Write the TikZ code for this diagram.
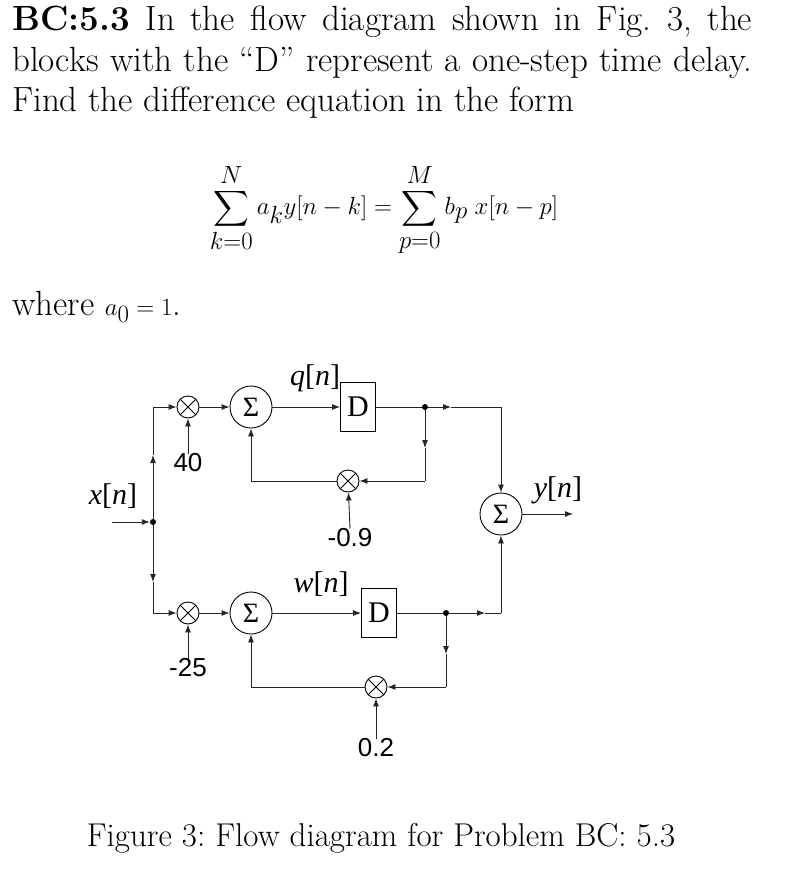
\documentclass[tikz,border=0pt]{standalone}
\usepackage{amsmath}
\usepackage{fontspec}
\newfontfamily\dsans{Liberation Sans}
\newfontfamily\tms{Liberation Serif}
\usetikzlibrary{arrows.meta}
\frenchspacing
\begin{document}
\begin{tikzpicture}[x=1pt,y=-1pt,
  arr/.style={-{Latex[length=8pt,width=6pt]}},
  ln/.style={line width=0.9pt,draw=black!85},
  mult/.style={circle,draw,line width=0.9pt,minimum size=22pt,inner sep=0pt,path picture={\draw[line width=0.8pt] (path picture bounding box.south west)--(path picture bounding box.north east) (path picture bounding box.north west)--(path picture bounding box.south east);}},
  sumn/.style={circle,draw,line width=0.9pt,minimum size=42pt,inner sep=0pt,font=\tms\fontsize{28}{28}\selectfont},
  dbox/.style={draw,line width=0.9pt,minimum width=35pt,minimum height=49pt,inner sep=0pt,font=\tms\fontsize{30}{30}\selectfont},
  num/.style={font=\dsans\fontsize{26}{26}\selectfont,inner sep=0pt},
  sig/.style={font=\tms\fontsize{30}{30}\selectfont,inner sep=0pt},
  txt/.style={anchor=west,inner sep=0pt,font=\fontsize{35}{35}\selectfont}]
\useasboundingbox (0,0) rectangle (804,894);
\node[txt] (l1) at (12,22) {\makebox[740pt][s]{\textbf{BC:5.3} In the flow diagram shown in Fig. 3, the}};
\node[txt] (l2) at (12,63) {\makebox[740pt][s]{blocks with the ``D'' represent a one-step time delay.}};
\node[txt] (l3) at (12,103) {Find the difference equation in the form};
\node[inner sep=0pt,font=\fontsize{33}{33}\selectfont] (eq) at (384,210) {$\displaystyle\sum_{k=0}^{N} a_k y[n-k]=\sum_{p=0}^{M} b_p\; x[n-p]$};
\node[txt] (l4) at (12,307) {where $a_0=1$.};
\node[inner sep=0pt,font=\fontsize{33}{33}\selectfont] (cap) at (381,838) {Figure 3: Flow diagram for Problem BC: 5.3};
% diagram
\coordinate (xin) at (112,522);
\node[fill,circle,inner sep=0pt,minimum size=6pt] (j) at (153,522) {};
\node[sig] (xl) at (113,496) {\textit{x}[\textit{n}]};
\coordinate (jt) at (153,407);
\coordinate (jb) at (153,613);
\node[mult] (m1) at (188,407) {};
\node[mult] (m2) at (188,613) {};
\node[num] (g1) at (188,463) {40};
\node[num] (g2) at (188,668) {-25};
\node[sumn] (s1) at (251,407) {Σ};
\node[sumn] (s2) at (251,613) {Σ};
\node[dbox] (d1) at (358,407) {D};
\node[dbox] (d2) at (379,613) {D};
\node[sig] (ql) at (315,378) {\textit{q}[\textit{n}]};
\node[sig] (wl) at (321,584) {\textit{w}[\textit{n}]};
\node[fill,circle,inner sep=0pt,minimum size=6pt] (p1) at (425,407) {};
\node[fill,circle,inner sep=0pt,minimum size=6pt] (p2) at (446,613) {};
\coordinate (c1) at (501,407);
\coordinate (c2) at (501,613);
\coordinate (f1) at (425,481);
\coordinate (f2) at (446,687);
\node[mult] (fm1) at (348,481) {};
\node[mult] (fm2) at (376,687) {};
\node[num] (g3) at (350,538) {-0.9};
\node[num] (g4) at (376,748) {0.2};
\coordinate (b1) at (251,481);
\coordinate (b2) at (251,687);
\node[sumn] (so) at (501,514) {Σ};
\node[sig] (yl) at (558,490) {\textit{y}[\textit{n}]};
\coordinate (yout) at (573,514);
\begin{scope}[ln]
\draw[arr] (xin) -- (j);
\draw[arr] (j) -- (153,455);
\draw (153,455) -- (jt);
\draw[arr] (jt) -- (m1);
\draw[arr] (j) -- (153,582);
\draw (153,582) -- (jb);
\draw[arr] (jb) -- (m2);
\draw[arr] (m1) -- (s1);
\draw[arr] (m2) -- (s2);
\draw[arr] (g1.north) -- (m1);
\draw[arr] (g2.north) -- (m2);
\draw[arr] (s1) -- (d1);
\draw[arr] (s2) -- (d2);
\draw (d1) -- (p1);
\draw (d2) -- (p2);
\draw[arr] (p1) -- (451,407);
\draw (451,407) -- (c1);
\draw[arr] (c1) -- (so);
\draw[arr] (p2) -- (485,613);
\draw (485,613) -- (c2);
\draw[arr] (c2) -- (so);
\draw[arr] (p1) -- (425,448);
\draw (425,448) -- (f1);
\draw[arr] (f1) -- (fm1);
\draw[arr] (p2) -- (446,654);
\draw (446,654) -- (f2);
\draw[arr] (f2) -- (fm2);
\draw[arr] (g3.north) -- (fm1);
\draw[arr] (g4.north) -- (fm2);
\draw (fm1) -- (b1);
\draw[arr] (b1) -- (s1);
\draw (fm2) -- (b2);
\draw[arr] (b2) -- (s2);
\draw[arr] (so) -- (yout);
\end{scope}
\end{tikzpicture}
\end{document}
